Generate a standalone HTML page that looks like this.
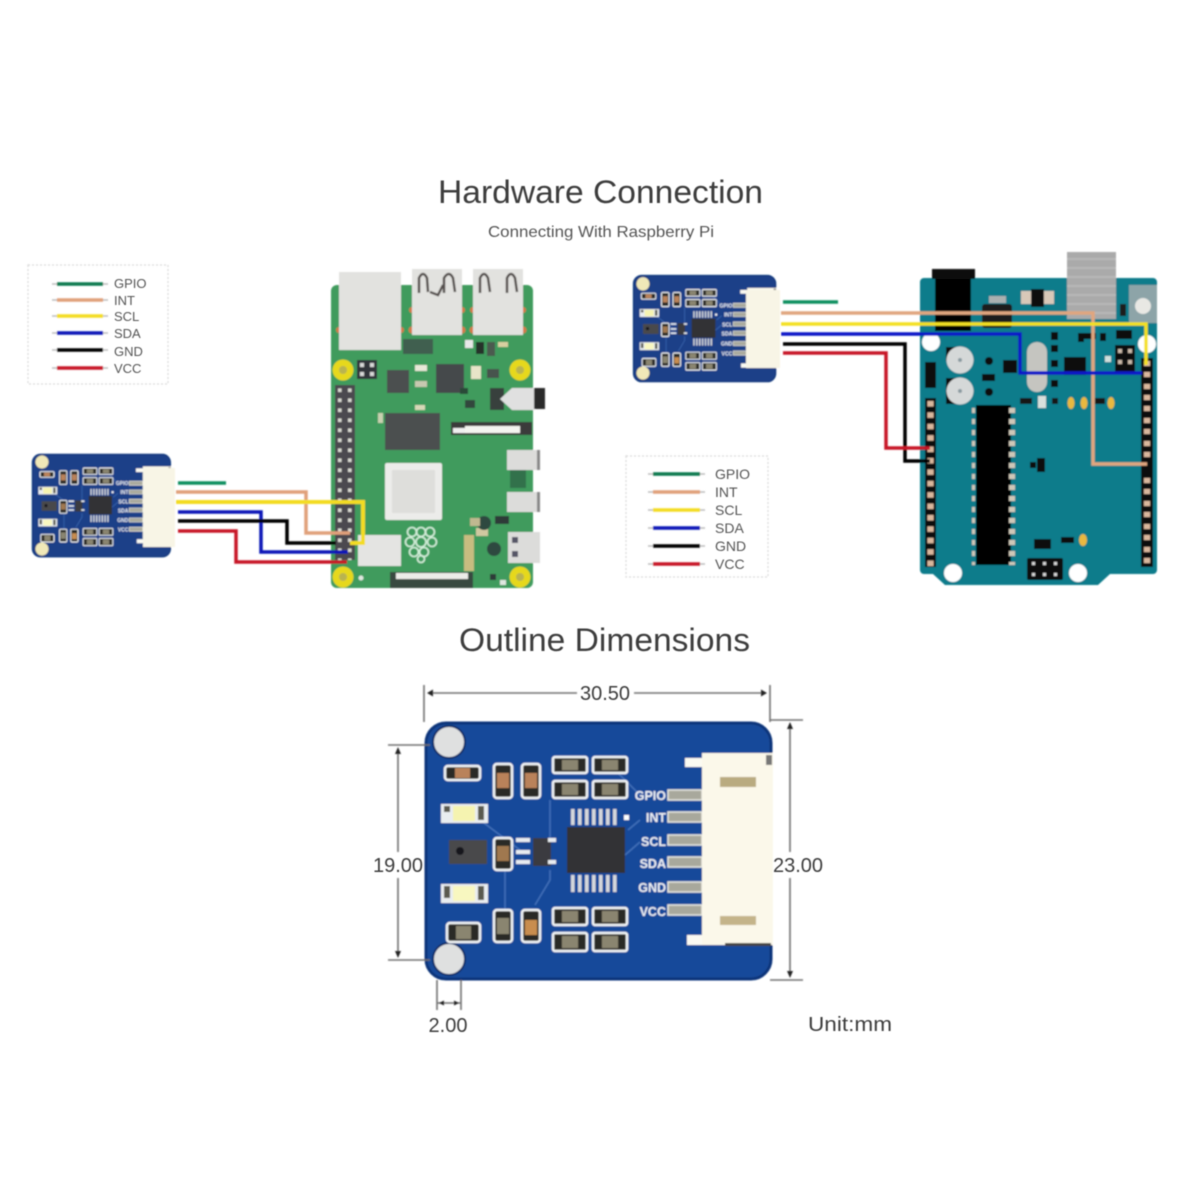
<!DOCTYPE html>
<html><head><meta charset="utf-8"><style>
html,body{margin:0;padding:0;background:#fff}
svg{display:block}
text{font-family:"Liberation Sans",sans-serif}
</style></head><body>
<svg width="1200" height="1200" viewBox="0 0 1200 1200" xmlns="http://www.w3.org/2000/svg">
<defs>
<filter id="b" x="-5%" y="-5%" width="110%" height="110%"><feGaussianBlur stdDeviation="0.7"/></filter>
<filter id="t" x="-5%" y="-5%" width="110%" height="110%"><feGaussianBlur stdDeviation="0.4"/></filter>
<pattern id="gp" x="335" y="385" width="10" height="10" patternUnits="userSpaceOnUse"><rect width="10" height="10" fill="#4c4a50"/><rect x="3" y="3.5" width="3.5" height="3.5" fill="#d8d8d0"/></pattern>
<pattern id="ah" x="925" y="398" width="11" height="11.4" patternUnits="userSpaceOnUse"><rect width="11" height="11.4" fill="#0c0c0c"/><rect x="2.5" y="3" width="6" height="5.5" fill="#d9b79d"/></pattern>
<pattern id="st" width="10" height="9" patternUnits="userSpaceOnUse"><rect width="10" height="9" fill="#aaaaaa"/><rect y="6" width="10" height="2" fill="#b8b8b8"/></pattern>
<pattern id="ic" x="972" y="405" width="40" height="11" patternUnits="userSpaceOnUse"><rect width="40" height="11" fill="none"/><rect x="0" y="3" width="3" height="5" fill="#cfc8b8"/><rect x="37" y="3" width="3" height="5" fill="#cfc8b8"/></pattern>
<g id="mod">
<rect x="426" y="723" width="345" height="256" rx="20" fill="currentColor" stroke="#11357a" stroke-width="3"/>
<g fill="none" stroke="#3f6fb8" stroke-width="1.5"><path d="M640 795 L610 765M640 820 L628 830M640 842 L625 855M505 870V910M550 870V880L535 905M480 820L520 850M550 800V840"/></g>
<circle cx="449" cy="742" r="16" fill="#dfe0e0" stroke="#0d2e68" stroke-width="2"/><circle cx="449" cy="959" r="16" fill="#dfe0e0" stroke="#0d2e68" stroke-width="2"/>
<g fill="#2a2a28" stroke="#f2f4f6" stroke-width="2.5">
<rect x="445" y="766" width="35" height="14" rx="3"/><rect x="494" y="764" width="18" height="34" rx="3"/><rect x="522" y="764" width="18" height="34" rx="3"/>
<rect x="553" y="757" width="34" height="16" rx="2"/><rect x="593" y="757" width="34" height="16" rx="2"/><rect x="553" y="781" width="34" height="17" rx="2"/><rect x="593" y="781" width="34" height="17" rx="2"/>
<rect x="494" y="838" width="18" height="32" rx="3"/><rect x="447" y="923" width="33" height="19" rx="3"/><rect x="494" y="910" width="18" height="32" rx="3"/><rect x="522" y="910" width="18" height="32" rx="3"/>
<rect x="553" y="908" width="34" height="17" rx="2"/><rect x="593" y="908" width="34" height="17" rx="2"/><rect x="553" y="933" width="34" height="18" rx="2"/><rect x="593" y="933" width="34" height="18" rx="2"/>
</g>
<g fill="#b9825a"><rect x="455" y="768" width="15" height="10"/><rect x="497" y="773" width="12" height="15"/><rect x="525" y="773" width="12" height="15"/><rect x="497" y="846" width="12" height="15" fill="#a07850"/><rect x="525" y="920" width="12" height="15" fill="#c88d50"/></g>
<g fill="#8a8570"><rect x="562" y="760" width="16" height="10"/><rect x="602" y="760" width="16" height="10"/><rect x="562" y="784" width="16" height="11"/><rect x="602" y="784" width="16" height="11"/><rect x="562" y="911" width="16" height="11"/><rect x="602" y="911" width="16" height="11"/><rect x="562" y="936" width="16" height="12"/><rect x="602" y="936" width="16" height="12"/><rect x="456" y="926" width="15" height="13"/><rect x="497" y="918" width="12" height="16"/></g>
<rect x="441" y="804" width="47" height="19" fill="#e9edf0"/><rect x="453" y="806" width="22" height="15" fill="#f5f3b0"/><rect x="444" y="806" width="6" height="6" fill="#5a5a50"/><rect x="478" y="806" width="6" height="14" fill="#5a5a50"/>
<rect x="441" y="884" width="47" height="19" fill="#e9edf0"/><rect x="453" y="886" width="22" height="15" fill="#f8f7c0"/><rect x="444" y="886" width="6" height="12" fill="#5a5a50"/><rect x="478" y="886" width="6" height="14" fill="#5a5a50"/>
<rect x="449" y="840" width="38" height="24" fill="#4a4a4c"/><circle cx="460" cy="851" r="4" fill="#16161a"/>
<rect x="533" y="838" width="18" height="28" fill="#3a3a40"/>
<g fill="#e8ecf0"><rect x="516" y="838" width="14" height="4"/><rect x="516" y="850" width="14" height="4"/><rect x="516" y="860" width="14" height="4"/><rect x="548" y="838" width="8" height="4"/><rect x="548" y="860" width="8" height="4"/></g>
<rect x="567" y="827" width="58" height="46" fill="#303034"/>
<g fill="#d5d8dc"><rect x="571" y="809" width="3.5" height="16"/><rect x="578" y="809" width="3.5" height="16"/><rect x="585" y="809" width="3.5" height="16"/><rect x="592" y="809" width="3.5" height="16"/><rect x="599" y="809" width="3.5" height="16"/><rect x="606" y="809" width="3.5" height="16"/><rect x="613" y="809" width="3.5" height="16"/>
<rect x="571" y="875" width="3.5" height="17"/><rect x="578" y="875" width="3.5" height="17"/><rect x="585" y="875" width="3.5" height="17"/><rect x="592" y="875" width="3.5" height="17"/><rect x="599" y="875" width="3.5" height="17"/><rect x="606" y="875" width="3.5" height="17"/><rect x="613" y="875" width="3.5" height="17"/><rect x="624" y="815" width="5" height="5" fill="#fff"/></g>
<g fill="#a8a89c" stroke="#e8e8e0" stroke-width="1.5"><rect x="668" y="790" width="34" height="10"/><rect x="668" y="812" width="34" height="10"/><rect x="668" y="835" width="34" height="10"/><rect x="668" y="857" width="34" height="10"/><rect x="668" y="882" width="34" height="10"/><rect x="668" y="905" width="34" height="10"/></g>
<g font-size="12.5" font-weight="bold" fill="#eef1f6" text-anchor="end"><text x="666" y="800">GPIO</text><text x="666" y="822">INT</text><text x="666" y="846">SCL</text><text x="666" y="868">SDA</text><text x="666" y="892">GND</text><text x="666" y="916">VCC</text></g>
<rect x="685" y="758" width="20" height="9" fill="#fbfaf2"/><rect x="687" y="935" width="20" height="10" fill="#fbfaf2"/>
<rect x="702" y="753" width="71" height="192" fill="#fbf8ea"/>
<rect x="720" y="777" width="36" height="10" fill="#b9ab80"/><rect x="720" y="916" width="36" height="9" fill="#c4b48a"/>
<rect x="766" y="755" width="6" height="10" fill="#777"/><rect x="725" y="943" width="46" height="3" fill="#444"/>
</g>
</defs>

<rect width="1200" height="1200" fill="#fff"/>
<g filter="url(#b)">
<!-- Raspberry Pi -->
<path d="M337 285H527a6 6 0 0 1 6 6V582a6 6 0 0 1-6 6H337a6 6 0 0 1-6-6V291a6 6 0 0 1 6-6z" fill="#3f9b5d"/>
<g fill="#d47a48"><circle cx="412" cy="330" r="3.5"/><circle cx="462" cy="330" r="3.5"/><circle cx="473" cy="330" r="3.5"/><circle cx="523" cy="330" r="3.5"/><circle cx="412" cy="310" r="3"/><circle cx="462" cy="310" r="3"/><circle cx="473" cy="310" r="3"/><circle cx="523" cy="310" r="3"/><circle cx="339" cy="330" r="3"/><circle cx="401" cy="330" r="3"/></g>
<rect x="339" y="272" width="62" height="78" fill="#e2e2df"/>
<rect x="412" y="269" width="50" height="66" fill="#e2e2df"/><rect x="473" y="269" width="50" height="66" fill="#e2e2df"/>
<g fill="none" stroke="#55504e" stroke-width="2.5"><path d="M419 293V278Q423 270 427 278L428 292M444 293V278Q449 270 453 278L455 292M480 293V278Q484 270 488 278L490 292M507 293V278Q511 270 515 278L517 292M430 292L438 295L443 285"/></g>
<rect x="403" y="339" width="30" height="15" fill="#3f5f50"/>
<circle cx="343" cy="370" r="10.5" fill="#e6d81e"/><circle cx="343" cy="370" r="4" fill="#b9b450"/>
<circle cx="520" cy="370" r="10.5" fill="#e6d81e"/><circle cx="520" cy="370" r="4" fill="#b9b450"/>
<circle cx="343" cy="577" r="10.5" fill="#e6d81e"/><circle cx="343" cy="577" r="4" fill="#b9b450"/>
<circle cx="520" cy="577" r="10.5" fill="#e6d81e"/><circle cx="520" cy="577" r="4" fill="#b9b450"/>
<rect x="335" y="385" width="20" height="175" fill="url(#gp)"/>
<rect x="357" y="360" width="20" height="19" fill="#33363a"/><g fill="#d8d8d8"><rect x="360" y="363" width="4" height="4"/><rect x="370" y="363" width="4" height="4"/><rect x="360" y="372" width="4" height="4"/><rect x="370" y="372" width="4" height="4"/></g>
<rect x="387" y="370" width="22" height="23" fill="#4b4f50"/><rect x="436" y="364" width="28" height="29" fill="#45494c"/>
<rect x="385" y="413" width="55" height="37" fill="#4c4f50"/>
<rect x="415" y="365" width="12" height="6" fill="#e8e8d8"/><rect x="415" y="381" width="12" height="6" fill="#c8c8b0"/><rect x="415" y="405" width="10" height="5" fill="#d8d8b8"/><rect x="378" y="413" width="5" height="10" fill="#c8d0b0"/>
<rect x="471" y="366" width="10" height="13" fill="#e8e4c8"/><rect x="487" y="369" width="12" height="9" fill="#47524e"/><rect x="465" y="340" width="8" height="8" fill="#e8e8e8"/><rect x="476" y="342" width="8" height="12" fill="#25302c"/><rect x="487" y="342" width="8" height="14" fill="#4c5a50"/><rect x="498" y="342" width="10" height="5" fill="#d8d0a0"/>
<rect x="490" y="388" width="14" height="22" fill="#37403c"/><path d="M500 399L512 388H535V410H512Z" fill="#e0e0e0"/><rect x="534" y="388" width="11" height="21" fill="#2a2a2a"/>
<rect x="451" y="422" width="81" height="13" fill="#3a3a3a"/><rect x="453" y="428" width="12" height="5" fill="#f0f0f0"/><rect x="465" y="426" width="55" height="7" fill="#f4f4f0"/>
<rect x="385" y="463" width="57" height="57" rx="2" fill="#ececea"/><rect x="392" y="470" width="43" height="43" fill="#dededb"/>
<rect x="507" y="450" width="33" height="20" fill="#dcdcda"/><rect x="507" y="492" width="33" height="20" fill="#dcdcda"/><rect x="537" y="450" width="3" height="20" fill="#888"/><rect x="537" y="492" width="3" height="20" fill="#888"/>
<rect x="508" y="532" width="32" height="31" fill="#dcdcda"/><rect x="512" y="537" width="6" height="6" fill="#556"/><rect x="512" y="551" width="6" height="6" fill="#556"/>
<rect x="358" y="535" width="43" height="31" fill="#e4e4e2"/>
<g fill="none" stroke="#d5f0dc" stroke-width="1.6"><circle cx="412" cy="532" r="4.5"/><circle cx="421" cy="532" r="4.5"/><circle cx="430" cy="532" r="4.5"/><circle cx="410" cy="542" r="4.5"/><circle cx="421" cy="542" r="5"/><circle cx="432" cy="542" r="4.5"/><circle cx="414" cy="552" r="4.5"/><circle cx="424" cy="552" r="4.5"/><circle cx="421" cy="559" r="3.5"/></g>
<rect x="390" y="572" width="83" height="16" fill="#394a40"/><rect x="396" y="573" width="72" height="6" fill="#ecece8"/>
<rect x="464" y="535" width="10" height="36" fill="#c8bc80"/><rect x="476" y="528" width="12" height="8" fill="#d0c8a0"/><circle cx="484" cy="523" r="7" fill="#2f4a40"/><circle cx="494" cy="549" r="7" fill="#2f4a40"/><rect x="495" y="516" width="14" height="8" fill="#2f3a38"/><rect x="470" y="518" width="10" height="8" fill="#c0b890"/>
<rect x="510" y="470" width="16" height="18" fill="#2f5f45" opacity=".7"/><circle cx="361" cy="578" r="2.5" fill="#dfe8e0"/>
<rect x="460" y="388" width="8" height="6" fill="#2a4a38"/><rect x="465" y="400" width="10" height="8" fill="#33473e"/><rect x="500" y="580" width="6" height="5" fill="#dfe8e0"/><rect x="490" y="574" width="6" height="6" fill="#2f3a38"/>

<!-- Arduino -->
<path d="M924 278H1153a4 4 0 0 1 4 4V570a4 4 0 0 1-4 4H1110L1098 585H945L933 574H924a4 4 0 0 1-4-4V282a4 4 0 0 1 4-4z" fill="#117c8b"/>
<rect x="932" y="269" width="43" height="10" fill="#0c0c0c"/><rect x="935" y="279" width="36" height="52" fill="#050505"/>
<rect x="982" y="304" width="30" height="24" rx="3" fill="#1a1a1a"/><rect x="989" y="296" width="17" height="7" fill="#aab0b0"/>
<rect x="1021" y="291" width="33" height="13" fill="#d8c8b8"/><rect x="1031" y="289" width="13" height="18" fill="#0a0a0a"/>
<rect x="1067" y="252" width="49" height="67" fill="url(#st)"/>
<rect x="1129" y="285" width="28" height="38" fill="#8da4a8"/><circle cx="1143" cy="306" r="8" fill="#e8e8e4"/>
<rect x="1120" y="304" width="6" height="12" fill="#1a1a1a"/>
<circle cx="931" cy="342" r="9" fill="#fff"/><circle cx="1147" cy="344" r="9" fill="#fff"/>
<circle cx="953" cy="573" r="9" fill="#fff"/><circle cx="1078" cy="573" r="9" fill="#fff"/>
<rect x="946" y="347" width="13" height="14" fill="#0c0c0c"/><circle cx="960" cy="360" r="13.5" fill="#d5d8d8"/><circle cx="960" cy="360" r="2" fill="#8a9aa0"/>
<rect x="946" y="378" width="13" height="26" fill="#0c0c0c"/><circle cx="960" cy="391" r="13.5" fill="#d5d8d8"/><circle cx="960" cy="391" r="2" fill="#8a9aa0"/>
<rect x="925" y="362" width="11" height="26" fill="#0c0c0c"/>
<rect x="1003" y="360" width="14" height="13" fill="#0a0a0a"/><circle cx="989" cy="361" r="4" fill="#111"/><rect x="982" y="374" width="13" height="7" fill="#111"/><circle cx="989" cy="392" r="4" fill="#111"/>
<rect x="1027" y="342" width="20" height="50" rx="10" fill="#c5c5c0"/>
<rect x="1064" y="357" width="22" height="18" fill="#111"/>
<rect x="1078" y="333" width="6" height="9" fill="#111"/><rect x="1082" y="333" width="14" height="6" fill="#111"/><rect x="1116" y="330" width="16" height="9" fill="#111"/><rect x="1051" y="332" width="7" height="8" fill="#111"/><rect x="1051" y="345" width="7" height="7" fill="#111"/><rect x="1051" y="360" width="7" height="7" fill="#111"/><rect x="1051" y="380" width="7" height="7" fill="#111"/><rect x="1100" y="333" width="6" height="8" fill="#111"/>
<rect x="1115" y="345" width="20" height="28" fill="#0c0c0c"/><g fill="#c8b8a8"><rect x="1118" y="349" width="4" height="4"/><rect x="1128" y="349" width="4" height="4"/><rect x="1118" y="360" width="4" height="4"/><rect x="1128" y="360" width="4" height="4"/></g>
<rect x="1105" y="356" width="6" height="6" fill="#cfe0dc"/>
<g fill="#151515"><rect x="1020" y="398" width="12" height="6"/><rect x="1052" y="398" width="6" height="6"/><rect x="1095" y="398" width="10" height="6"/></g>
<rect x="1038" y="396" width="8" height="12" fill="#d8e0dc"/>
<g fill="#e8b840"><ellipse cx="1071" cy="403" rx="3.5" ry="6"/><ellipse cx="1084" cy="403" rx="3.5" ry="6"/><ellipse cx="1111" cy="403" rx="3.5" ry="6"/><ellipse cx="1083" cy="540" rx="4" ry="6"/></g>
<rect x="976" y="405" width="35" height="160" fill="#050505"/><rect x="972" y="405" width="44" height="160" fill="url(#ic)"/>
<rect x="1030" y="462" width="6" height="6" fill="#111"/><rect x="1037" y="458" width="8" height="14" fill="#111"/>
<rect x="1034" y="539" width="17" height="10" fill="#111"/><rect x="1061" y="537" width="13" height="6" fill="#111"/>
<rect x="1027" y="558" width="36" height="22" rx="2" fill="#0a0a0a"/><g fill="#d8d8d8"><rect x="1032" y="562" width="3" height="3"/><rect x="1043" y="562" width="3" height="3"/><rect x="1054" y="562" width="3" height="3"/><rect x="1032" y="573" width="3" height="3"/><rect x="1043" y="573" width="3" height="3"/><rect x="1054" y="573" width="3" height="3"/></g>
<rect x="925" y="398" width="11" height="169" fill="url(#ah)"/>
<rect x="1141" y="358" width="12" height="209" fill="#0c0c0c"/>
<g fill="#d9b79d"><rect x="1144" y="361" width="6" height="5"/><rect x="1144" y="372" width="6" height="5"/><rect x="1144" y="384" width="6" height="5"/><rect x="1144" y="395" width="6" height="5"/><rect x="1144" y="406" width="6" height="5"/><rect x="1144" y="418" width="6" height="5"/><rect x="1144" y="429" width="6" height="5"/><rect x="1144" y="441" width="6" height="5"/><rect x="1144" y="452" width="6" height="5"/><rect x="1144" y="478" width="6" height="5"/><rect x="1144" y="489" width="6" height="5"/><rect x="1144" y="501" width="6" height="5"/><rect x="1144" y="512" width="6" height="5"/><rect x="1144" y="524" width="6" height="5"/><rect x="1144" y="535" width="6" height="5"/><rect x="1144" y="547" width="6" height="5"/><rect x="1144" y="558" width="6" height="5"/></g>

<!-- modules -->
<use href="#mod" style="color:#1b3f88" transform="translate(-138 165.2) scale(.4)"/>
<rect x="143" y="468" width="32" height="79" fill="#f8f5e6"/>
<circle cx="42" cy="462" r="6.5" fill="#f0e8b8"/><circle cx="42" cy="549" r="6.5" fill="#f0e8b8"/>
<use href="#mod" style="color:#1b3f88" transform="translate(458 -24.6) scale(.412 .415)"/>
<rect x="746" y="290" width="34" height="78" fill="#f8f5e6"/>
<circle cx="643" cy="284" r="6.5" fill="#f0e8b8"/><circle cx="643" cy="373" r="6.5" fill="#f0e8b8"/>
<use href="#mod" style="color:#18489a"/>

<!-- wires left -->
<g fill="none" stroke-width="3.5" stroke-linejoin="miter">
<path d="M178 483H226" stroke="#0f8f60"/>
<path d="M176 492H306V533H350" stroke="#e0a07a"/>
<path d="M176 502H363V543H350" stroke="#f3dc20" stroke-width="4"/>
<path d="M178 512H261V552H348" stroke="#0a18b8"/>
<path d="M178 521H287V543H336" stroke="#050505"/>
<path d="M178 531H236V562H347" stroke="#c81428"/>
</g>
<!-- wires right -->
<g fill="none" stroke-width="3.5" stroke-linejoin="miter">
<path d="M783 302H838" stroke="#0f8f60"/>
<path d="M781 313H1093V464H1147" stroke="#e0a67f"/>
<path d="M781 324H1146V365" stroke="#f3e020"/>
<path d="M781 334H1020V373H1142" stroke="#0a18c8"/>
<path d="M783 344H905V461H930" stroke="#050505"/>
<path d="M783 353H886V448H930" stroke="#c81428"/>
</g>

<!-- legends -->
<rect x="28" y="265" width="140" height="119" fill="none" stroke="#d8d8d8" stroke-width="1.2" stroke-dasharray="2 2"/>
<rect x="626" y="456" width="142" height="121" fill="none" stroke="#d8d8d8" stroke-width="1.2" stroke-dasharray="2 2"/>
<path d="M52 284H108M52 300H108M52 316H108M52 333H108M52 350H108M52 368H108M648 474H705M648 492H705M648 510H705M648 528H705M648 546H705M648 564H705" stroke="#bbb" stroke-width="1.5" fill="none"/>
<g stroke-width="3.5" fill="none">
<path d="M57 284H103M653 474H700" stroke="#0b7a50"/>
<path d="M57 300H103M653 492H700" stroke="#e0a07a"/>
<path d="M57 316H103M653 510H700" stroke="#f3dc20"/>
<path d="M57 333H103M653 528H700" stroke="#0a18b8"/>
<path d="M57 350H103M653 546H700" stroke="#050505"/>
<path d="M57 368H103M653 564H700" stroke="#c81428"/>
</g>
<!-- dims -->
<g stroke="#707070" stroke-width="1.6" fill="none">
<path d="M424 685V722M770 685V722M430 693H577M634 693H765"/>
<path d="M770 720H803M770 980H803M790 725V852M790 878V975"/>
<path d="M388 745H430M388 960H430M398 750V852M398 878V955"/>
<path d="M437 980V1010M461 980V1010M437 1003H461"/>
</g>
<g fill="#222">
<path d="M427 693l6-3.5v7zM767 693l-6-3.5v7zM790 722l-3 7h6zM790 978l-3-7h6zM398 747l-3 7h6zM398 958l-3-7h6zM439 1003l5-2.5v5zM459 1003l-5-2.5v5z"/>
</g>
</g>

<g fill="#3c3c3c" filter="url(#t)">
<text x="438" y="203" font-size="32" textLength="325" lengthAdjust="spacingAndGlyphs">Hardware Connection</text>
<text x="488" y="237" font-size="16" textLength="226" lengthAdjust="spacingAndGlyphs" fill="#555">Connecting With Raspberry Pi</text>
<text x="459" y="651" font-size="32" textLength="291" lengthAdjust="spacingAndGlyphs">Outline Dimensions</text>
<g font-size="13" fill="#555"><text x="114" y="288">GPIO</text><text x="114" y="305">INT</text><text x="114" y="321">SCL</text><text x="114" y="338">SDA</text><text x="114" y="356">GND</text><text x="114" y="373">VCC</text></g>
<g font-size="14" fill="#555"><text x="715" y="479">GPIO</text><text x="715" y="497">INT</text><text x="715" y="515">SCL</text><text x="715" y="533">SDA</text><text x="715" y="551">GND</text><text x="715" y="569">VCC</text></g>
<g font-size="20" text-anchor="middle"><text x="605" y="700">30.50</text><text x="398" y="872">19.00</text><text x="798" y="872">23.00</text><text x="448" y="1032">2.00</text></g>
<text x="808" y="1031" font-size="20" textLength="84" lengthAdjust="spacingAndGlyphs">Unit:mm</text>
</g>
</svg>
</body></html>
